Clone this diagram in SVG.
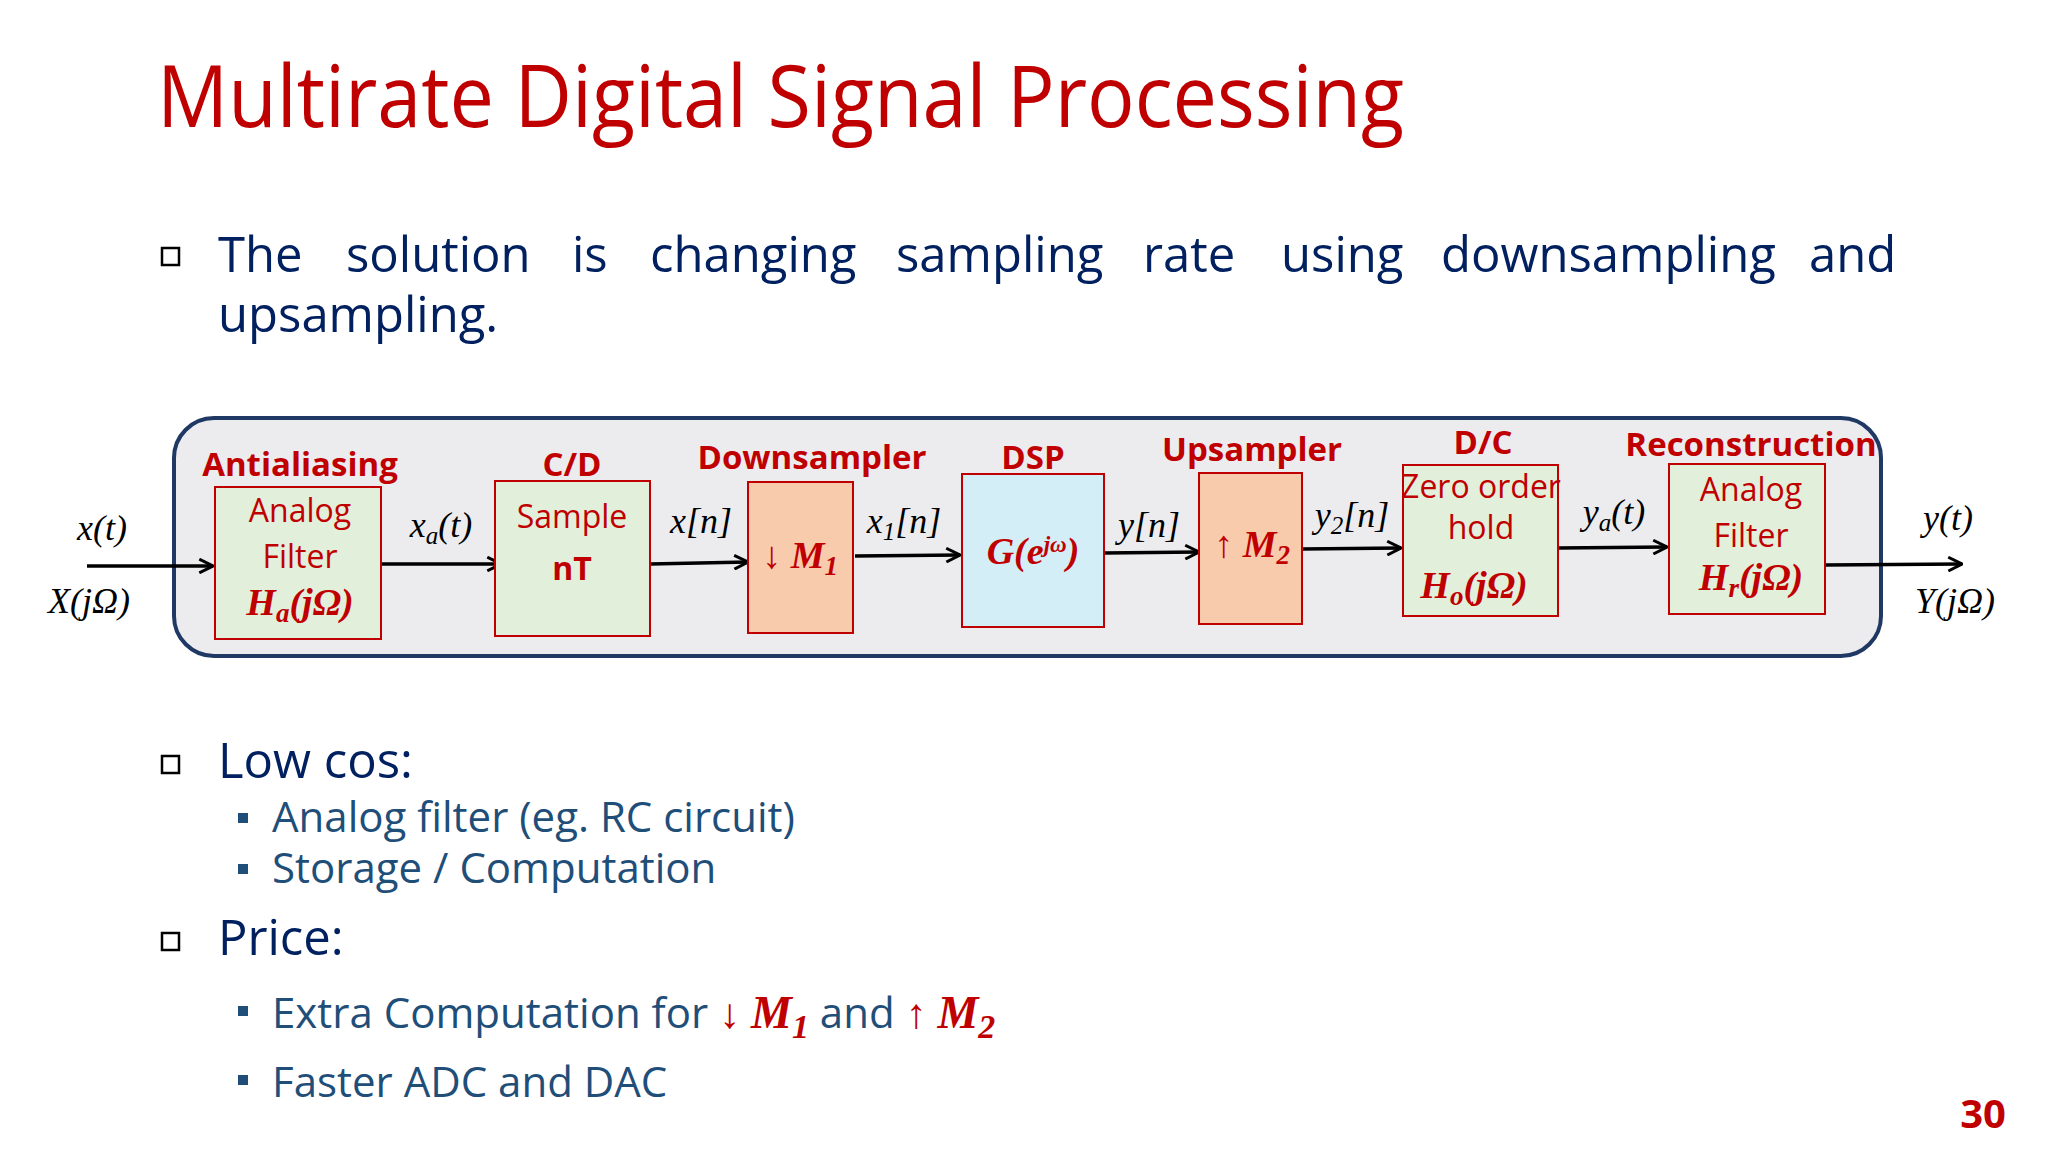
<svg xmlns="http://www.w3.org/2000/svg" width="2048" height="1152" viewBox="0 0 2048 1152">
<defs>
<marker id="ah" viewBox="0 0 14 14" refX="13" refY="7" markerWidth="16" markerHeight="16" markerUnits="userSpaceOnUse" orient="auto"><path d="M1,1 L13,7 L1,13" fill="none" stroke="#000" stroke-width="2.6"/></marker>
</defs>
<style>
.t{font-family:"Open Sans","Noto Sans",sans-serif}
.red{fill:#C00000}
.lab{font-family:"Open Sans",sans-serif;font-weight:bold;fill:#C00000;font-size:33px;text-anchor:middle}
.bx{stroke:#C00000;stroke-width:2}
.g{fill:#E2EFDA}.o{fill:#F8CBAD}.c{fill:#D3EEF6}
.in{font-family:"Open Sans",sans-serif;fill:#C00000;font-size:32px;text-anchor:middle}
.m{font-family:"Liberation Serif",serif;font-style:italic;font-size:36px;fill:#000;text-anchor:middle}
.mb{font-family:"Liberation Serif",serif;font-style:italic;font-weight:bold;font-size:38px;fill:#C00000;text-anchor:middle}
.c1{fill:#002060;font-size:49px}
.c2{fill:#1F4E79;font-size:42px}
.cn{stroke:#000;stroke-width:3.5;fill:none;marker-end:url(#ah)}
</style>
<rect width="2048" height="1152" fill="#fff"/>
<text x="157" y="127" class="t red" font-size="86" textLength="1247" lengthAdjust="spacingAndGlyphs">Multirate Digital Signal Processing</text>
<g id="bullets">
<rect x="162" y="248" width="17" height="17" fill="#fff" stroke="#000" stroke-width="2.5"/>
<text y="272" class="t c1"><tspan x="218">The</tspan><tspan x="346">solution</tspan><tspan x="572">is</tspan><tspan x="650">changing</tspan><tspan x="896">sampling</tspan><tspan x="1143">rate</tspan><tspan x="1281">using</tspan><tspan x="1441">downsampling</tspan><tspan x="1809">and</tspan></text>
<text x="218" y="332" class="t c1">upsampling.</text>
<rect x="162" y="756" width="17" height="17" fill="#fff" stroke="#000" stroke-width="2.5"/>
<text x="218" y="778" class="t c1">Low cos:</text>
<rect x="238" y="813" width="10" height="10" fill="#1F4E79"/>
<text x="272" y="832" class="t c2">Analog filter (eg. RC circuit)</text>
<rect x="238" y="864" width="10" height="10" fill="#1F4E79"/>
<text x="272" y="883" class="t c2">Storage / Computation</text>
<rect x="162" y="933" width="17" height="17" fill="#fff" stroke="#000" stroke-width="2.5"/>
<text x="218" y="955" class="t c1">Price:</text>
<rect x="238" y="1006" width="10" height="10" fill="#1F4E79"/>
<text x="272" y="1028" class="t c2">Extra Computation for <tspan fill="#C00000">↓ </tspan><tspan fill="#C00000" font-family="Liberation Serif" font-style="italic" font-weight="bold" font-size="46">M<tspan font-size="34" dy="10">1</tspan></tspan><tspan dy="-10"> and </tspan><tspan fill="#C00000">↑ </tspan><tspan fill="#C00000" font-family="Liberation Serif" font-style="italic" font-weight="bold" font-size="46">M<tspan font-size="34" dy="10">2</tspan></tspan></text>
<rect x="238" y="1075" width="10" height="10" fill="#1F4E79"/>
<text x="272" y="1097" class="t c2">Faster ADC and DAC</text>
<text x="2006" y="1128" class="t red" font-size="40" font-weight="bold" text-anchor="end">30</text>
</g>
<rect id="frame" x="174" y="418" width="1707" height="238" rx="40" fill="#ECECEF" stroke="#1F3864" stroke-width="4"/>
<g id="connectors">
<line x1="87" y1="566" x2="213" y2="566" class="cn"/>
<line x1="381" y1="564" x2="501" y2="564" class="cn"/>
<line x1="650" y1="564" x2="748" y2="562" class="cn"/>
<line x1="855" y1="556" x2="960" y2="555" class="cn"/>
<line x1="1104" y1="553" x2="1199" y2="552" class="cn"/>
<line x1="1302" y1="549" x2="1401" y2="548" class="cn"/>
<line x1="1558" y1="548" x2="1667" y2="547" class="cn"/>
<line x1="1825" y1="565" x2="1962" y2="564" class="cn"/>
<text x="102" y="540" class="m">x(t)</text>
<text x="89" y="613" class="m">X(jΩ)</text>
<text x="441" y="537" class="m">x<tspan font-size="25" dy="7">a</tspan><tspan dy="-7">(t)</tspan></text>
<text x="701" y="533" class="m">x[n]</text>
<text x="904" y="533" class="m">x<tspan font-size="25" dy="7">1</tspan><tspan dy="-7">[n]</tspan></text>
<text x="1149" y="537" class="m">y[n]</text>
<text x="1352" y="527" class="m">y<tspan font-size="25" dy="7">2</tspan><tspan dy="-7">[n]</tspan></text>
<text x="1614" y="524" class="m">y<tspan font-size="25" dy="7">a</tspan><tspan dy="-7">(t)</tspan></text>
<text x="1948" y="530" class="m">y(t)</text>
<text x="1955" y="613" class="m">Y(jΩ)</text>
</g>
<g id="antialiasing">
<text x="300" y="476" class="lab">Antialiasing</text>
<rect x="215" y="487" width="166" height="152" class="bx g"/>
<text x="300" y="522" class="in">Analog</text>
<text x="300" y="568" class="in">Filter</text>
<text x="300" y="615" class="mb">H<tspan font-size="27" dy="7">a</tspan><tspan dy="-7">(jΩ)</tspan></text>
</g>
<g id="cd">
<text x="572" y="476" class="lab">C/D</text>
<rect x="495" y="481" width="155" height="155" class="bx g"/>
<text x="572" y="528" class="in">Sample</text>
<text x="572" y="580" class="in" font-weight="bold">nT</text>
</g>
<g id="down">
<text x="812" y="469" class="lab">Downsampler</text>
<rect x="748" y="482" width="105" height="151" class="bx o"/>
<text x="800" y="568" class="mb"><tspan font-style="normal" font-weight="normal" font-family="Open Sans">↓ </tspan>M<tspan font-size="27" dy="7">1</tspan></text>
</g>
<g id="dsp">
<text x="1033" y="469" class="lab">DSP</text>
<rect x="962" y="474" width="142" height="153" class="bx c"/>
<text x="1033" y="564" class="mb" font-size="34">G(e<tspan font-size="23" dy="-12">jω</tspan><tspan dy="12">)</tspan></text>
</g>
<g id="up">
<text x="1252" y="461" class="lab">Upsampler</text>
<rect x="1199" y="473" width="103" height="151" class="bx o"/>
<text x="1252" y="557" class="mb"><tspan font-style="normal" font-weight="normal" font-family="Open Sans">↑ </tspan>M<tspan font-size="27" dy="7">2</tspan></text>
</g>
<g id="dc">
<text x="1483" y="454" class="lab">D/C</text>
<rect x="1403" y="465" width="155" height="151" class="bx g"/>
<text x="1481" y="498" class="in" font-size="26">Zero order</text>
<text x="1481" y="539" class="in" font-size="27">hold</text>
<text x="1474" y="598" class="mb">H<tspan font-size="27" dy="7">o</tspan><tspan dy="-7">(jΩ)</tspan></text>
</g>
<g id="recon">
<text x="1751" y="456" class="lab" font-size="30">Reconstruction</text>
<rect x="1669" y="464" width="156" height="150" class="bx g"/>
<text x="1751" y="501" class="in">Analog</text>
<text x="1751" y="547" class="in">Filter</text>
<text x="1751" y="590" class="mb">H<tspan font-size="27" dy="7">r</tspan><tspan dy="-7">(jΩ)</tspan></text>
</g>
</svg>
